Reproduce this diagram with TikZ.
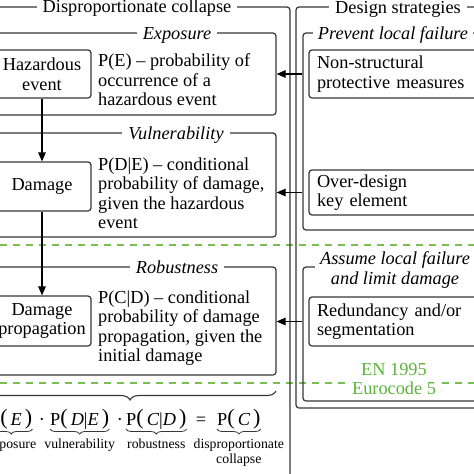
\documentclass[tikz,border=0pt]{standalone}
\usepackage{fontspec}
\setmainfont{Liberation Serif}
\usetikzlibrary{arrows.meta,decorations.pathreplacing}
\definecolor{linegray}{RGB}{55,55,55}
\definecolor{dashgreen}{RGB}{120,192,80}
\definecolor{textgreen}{RGB}{92,180,58}
\newcommand{\bpar}[1]{\raisebox{1.2pt}{\fontsize{22}{22}\selectfont #1}}
\begin{document}
\begin{tikzpicture}[x=1pt,y=-1pt,
  font=\fontsize{18.3}{19.5}\selectfont,
  frame/.style={draw=linegray, line width=1.2pt, rounded corners=3pt, inner sep=0pt},
  ebox/.style={draw=linegray, line width=1.2pt, rounded corners=3pt, inner sep=0pt, align=center},
  rbox/.style={draw=linegray, line width=1.2pt, rounded corners=3pt, inner sep=0pt, align=left},
  title/.style={fill=white, inner xsep=6pt, inner ysep=1pt, anchor=base},
  desc/.style={inner sep=0pt, align=left, anchor=west},
  arr/.style={-{Triangle[length=9pt,width=7.5pt]}, line width=1.2pt, draw=black},
  greendash/.style={draw=dashgreen, line width=1.3pt, dash pattern=on 7pt off 6pt},
  fml/.style={inner sep=0pt, anchor=base west},
  small/.style={font=\fontsize{13.8}{15}\selectfont, inner sep=0pt},
  fbrace/.style={draw=linegray, line width=0.8pt, decorate, decoration={brace, amplitude=5pt}},
  bigbrace/.style={draw=linegray, line width=1.1pt, decorate, decoration={brace, amplitude=9pt}}
]
\useasboundingbox (0,0) rectangle (474,474);
\fill[white] (0,0) rectangle (474,474);
\begin{scope}
\clip (0,0) rectangle (474,474);

% green dashed separators
\draw[greendash] (0,245) -- (474,245);
\draw[greendash] (0,383) -- (474,383);

% outer frames
\node[frame, minimum width=306pt, minimum height=513pt] (outer) at (137,263.5) {};
\node[frame, minimum width=224pt, minimum height=401pt] (design) at (408,207.5) {};
\node[title] (outert) at (137,12.5) {Disproportionate collapse};
\node[title] (designt) at (398,13) {Design strategies};

% left column frames
\node[frame, minimum width=286pt, minimum height=82pt] (expo) at (133,74) {};
\node[frame, minimum width=286pt, minimum height=104pt] (vuln) at (133,185) {};
\node[frame, minimum width=286pt, minimum height=108pt] (robust) at (133,321) {};
\node[title] (expot) at (177,39) {\itshape Exposure};
\node[title] (vulnt) at (176,139) {\itshape Vulnerability};
\node[title] (robustt) at (177,273) {\itshape Robustness};

% right column frames
\node[frame, minimum width=207pt, minimum height=197pt] (prevent) at (406.5,131.5) {};
\node[frame, minimum width=207pt, minimum height=134pt] (assume) at (406.5,334) {};
\node[title, inner xsep=5pt] (preventt) at (393,39) {\itshape Prevent local failure};
\node[fill=white, inner xsep=5pt, inner ysep=0pt, align=center] (assumet) at (395,270)
  {\itshape Assume local failure\\\itshape and limit damage};

% event boxes
\node[ebox, minimum width=98pt, minimum height=48pt] (haz) at (42,74) {Hazardous\\event};
\node[ebox, minimum width=98pt, minimum height=49pt] (dam) at (42,186.5) {Damage};
\node[ebox, minimum width=98pt, minimum height=50pt] (prop) at (42,321) {Damage\\propagation};

% descriptions
\node[desc] (pe) at (98,80) {P(E) – probability of\\occurrence of a\\hazardous event};
\node[desc] (pde) at (98,193) {P(D|E) – conditional\\probability of damage,\\given the hazardous\\event};
\node[desc] (pcd) at (98,328) {P(C|D) – conditional\\probability of damage\\propagation, given the\\initial damage};

% strategy boxes
\node[rbox, minimum width=176pt, minimum height=48pt, text width=160pt] (nonstr) at (397,74) {Non-structural\\protective measures};
\node[rbox, minimum width=176pt, minimum height=45pt, text width=160pt] (over) at (397,192.5) {Over-design\\key element};
\node[rbox, minimum width=176pt, minimum height=49pt, text width=160pt] (redund) at (397,321.5) {Redundancy and/or\\segmentation};

% Eurocode label
\node[fill=white, inner xsep=6pt, inner ysep=0pt, align=center, text=textgreen] (ec) at (394,379) {EN 1995\\Eurocode 5};

% arrows
\draw[arr] (haz.south) -- (dam.north);
\draw[arr] (dam.south) -- (prop.north);
\draw[arr] (prevent.west |- nonstr.center) -- (expo.east |- nonstr.center);
\draw[arr] (prevent.west |- over.center) -- (vuln.east |- over.center);
\draw[arr] (assume.west |- redund.center) -- (robust.east |- redund.center);

% grouping brace
\draw[bigbrace] (276,391) -- (-16,391);

% formula
\node[inner sep=0pt, anchor=base east] (fe) at (32.5,425.5) {P\bpar{(}\,\textit{E}\,\bpar{)}};
\node[inner sep=0pt, anchor=base] (dot1) at (42,425.5) {·};
\node[fml] (fde) at (50,425.5) {P\bpar{(}\,\textit{D}|\textit{E}\,\bpar{)}};
\node[inner sep=0pt, anchor=base] (dot2) at (120,425.5) {·};
\node[fml] (fcd) at (126,425.5) {P\bpar{(}\,\textit{C}|\textit{D}\,\bpar{)}};
\node[inner sep=0pt, anchor=base] (eq) at (201,425.5) {=};
\node[fml] (fc) at (217,425.5) {P\bpar{(}\,\textit{C}\,\bpar{)}};

\draw[fbrace] (fe.east |- 0,429) -- (fe.west |- 0,429);
\draw[fbrace] (fde.east |- 0,429) -- (fde.west |- 0,429);
\draw[fbrace] (fcd.east |- 0,429) -- (fcd.west |- 0,429);
\draw[fbrace] (fc.east |- 0,429) -- (fc.west |- 0,429);

\node[small, anchor=base] (lexp) at (fe.center |- 0,448.5) {exposure};
\node[small, anchor=base] (lvul) at (fde.center |- 0,448.5) {vulnerability};
\node[small, anchor=base] (lrob) at (fcd.center |- 0,448.5) {robustness};
\node[small, anchor=north, align=center] (ldis) at (fc.center |- 0,439) {disproportionate\\collapse};
\end{scope}
\end{tikzpicture}
\end{document}
